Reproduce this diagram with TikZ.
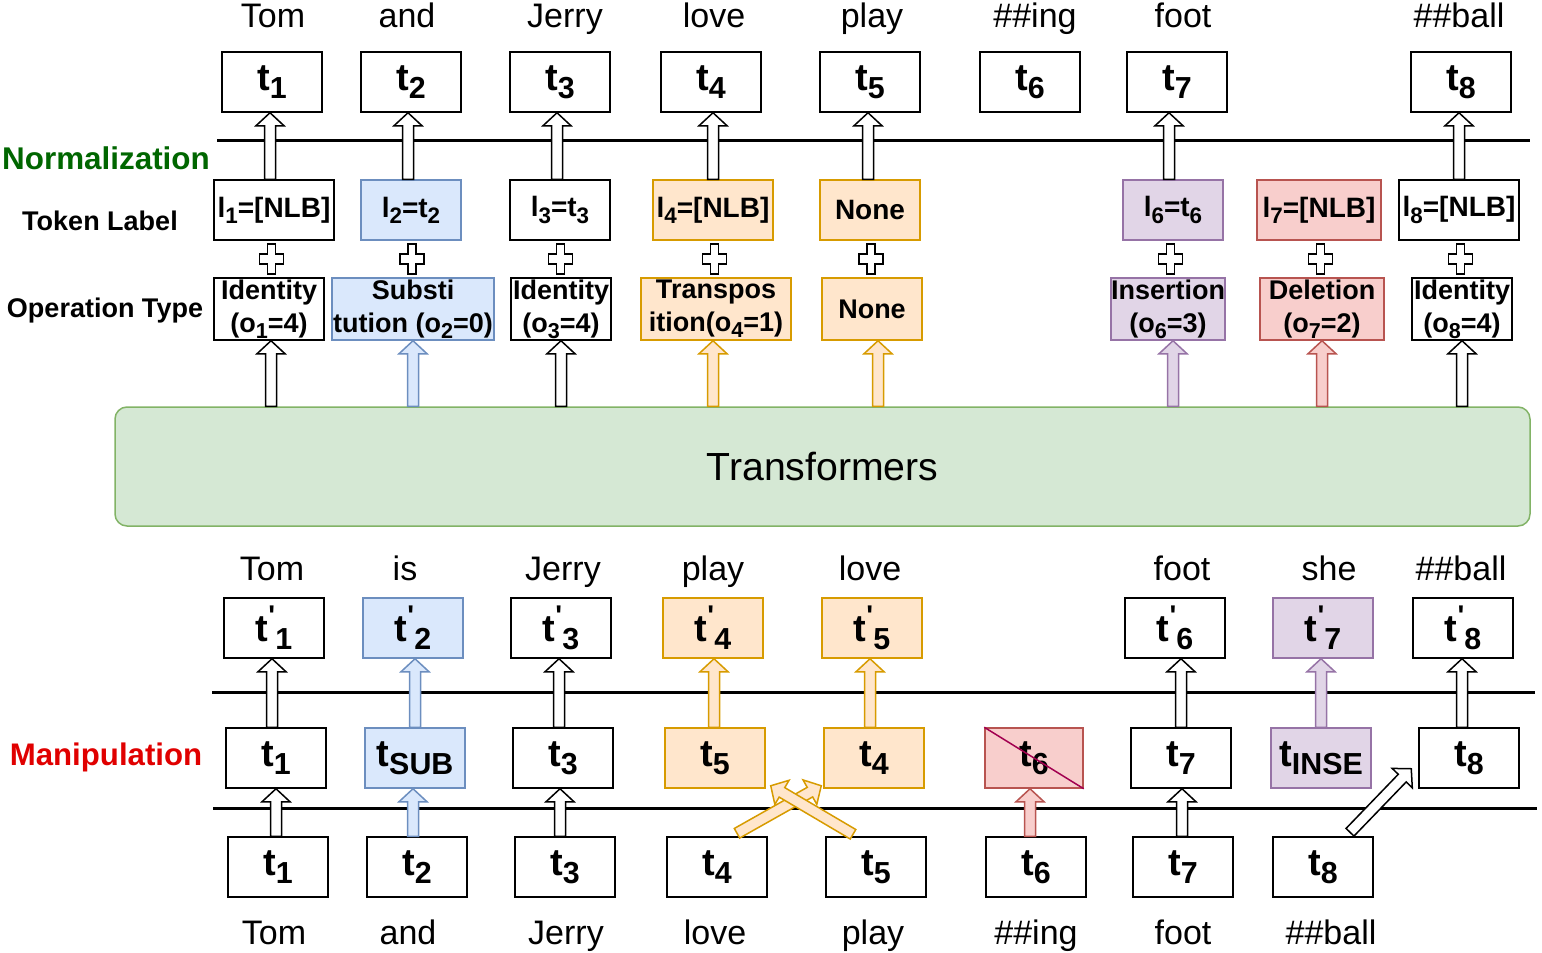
\documentclass[tikz,border=0pt]{standalone}
\usepackage{fontspec}
\setmainfont{Liberation Sans}
\usepackage{graphicx}
\usetikzlibrary{calc}

\definecolor{bluefill}{HTML}{DAE8FC}
\definecolor{blueline}{HTML}{6C8EBF}
\definecolor{orangefill}{HTML}{FFE6CC}
\definecolor{orangeline}{HTML}{D79B00}
\definecolor{purplefill}{HTML}{E1D5E7}
\definecolor{purpleline}{HTML}{9673A6}
\definecolor{redfill}{HTML}{F8CECC}
\definecolor{redline}{HTML}{B85450}
\definecolor{greenfill}{HTML}{D5E8D4}
\definecolor{greenline}{HTML}{82B366}
\definecolor{normgreen}{HTML}{006600}
\definecolor{maniared}{HTML}{E00000}
\definecolor{strikered}{HTML}{A20050}

\tikzstyle{tok} = [draw, line width=0.75pt, minimum width=50pt, minimum height=30pt, inner sep=0pt, font=\fontsize{19}{21}\selectfont\bfseries]
\tikzstyle{lab} = [draw, line width=0.75pt, minimum width=50pt, minimum height=30pt, inner sep=0pt, font=\fontsize{14}{16}\selectfont\bfseries]
\tikzstyle{opt} = [lab, minimum height=31pt, align=center, font=\fontsize{13.5}{16.5}\selectfont\bfseries]
\tikzstyle{word} = [anchor=base, inner sep=0pt, font=\fontsize{17}{19}\selectfont]
\tikzstyle{side} = [inner sep=0pt, font=\fontsize{13.5}{15}\selectfont\bfseries]
\tikzstyle{bluebox} = [draw=blueline, fill=bluefill]
\tikzstyle{orangebox} = [draw=orangeline, fill=orangefill]
\tikzstyle{purplebox} = [draw=purpleline, fill=purplefill]
\tikzstyle{redbox} = [draw=redline, fill=redfill]
\tikzstyle{rule} = [line width=1.5pt]
\tikzstyle{harrow} = [line width=0.75pt, draw=black, fill=white]
\tikzstyle{bluearrow} = [harrow, draw=blueline, fill=bluefill]
\tikzstyle{orangearrow} = [harrow, draw=orangeline, fill=orangefill]
\tikzstyle{purplearrow} = [harrow, draw=purpleline, fill=purplefill]
\tikzstyle{redarrow} = [harrow, draw=redline, fill=redfill]

\tikzset{plusmark/.pic={
  \draw[line width=0.75pt, fill=white] (-4,-15) -- (4,-15) -- (4,-5) -- (12,-5) -- (12,5) -- (4,5) -- (4,15) -- (-4,15) -- (-4,5) -- (-12,5) -- (-12,-5) -- (-4,-5) -- cycle;
}}

\newcommand{\lowsub}[1]{\raisebox{-0.22em}{\scalebox{0.8}{#1}}}
\newcommand{\tk}[1]{t\lowsub{#1}}
\newcommand{\tkp}[1]{t\raisebox{0.42em}{\scalebox{0.75}{\textquotesingle}}\lowsub{#1}}

% hollow block arrow from #2 to #3
\newcommand{\blockarrow}[3][harrow]{
  \coordinate (bas) at (#2);
  \coordinate (bae) at (#3);
  \coordinate (bah) at ($(bae)!6.5pt!(bas)$);
  \draw[#1] ($(bas)!2.75pt!90:(bae)$) -- ($(bah)!2.75pt!90:(bae)$) -- ($(bah)!7pt!90:(bae)$) -- (bae)
    -- ($(bah)!7pt!-90:(bae)$) -- ($(bah)!2.75pt!-90:(bae)$) -- ($(bas)!2.75pt!-90:(bae)$) -- cycle;
}
% vertical one: x taken from #2, from the row of #3 to the row of #4
\newcommand{\blockup}[4][harrow]{
  \coordinate (bax) at (#2);
  \coordinate (bay) at (bax |- #3);
  \coordinate (baz) at (bax |- #4);
  \blockarrow[#1]{bay}{baz}
}

\begin{document}
\begin{tikzpicture}[x=0.5pt,y=-0.5pt]

\useasboundingbox (0,0) rectangle (1542,953);

%% normalization part
\node[word] (w1) at (273,27) {Tom};
\node[word] (w2) at (407,27) {and};
\node[word] (w3) at (565,27) {Jerry};
\node[word] (w4) at (714,27) {love};
\node[word] (w5) at (872,27) {play};
\node[word] (w6) at (1035,27) {\#\#ing};
\node[word] (w7) at (1183,27) {foot};
\node[word] (w8) at (1459,27) {\#\#ball};

\node[tok] (t1) at (272,82) {\tk{1}};
\node[tok] (t2) at (411,82) {\tk{2}};
\node[tok] (t3) at (560,82) {\tk{3}};
\node[tok] (t4) at (711,82) {\tk{4}};
\node[tok] (t5) at (870,82) {\tk{5}};
\node[tok] (t6) at (1030,82) {\tk{6}};
\node[tok] (t7) at (1177,82) {\tk{7}};
\node[tok] (t8) at (1461,82) {\tk{8}};

\draw[rule] (217,140) -- (1530,140);

\node[side, text=normgreen, font=\fontsize{15.7}{17}\selectfont\bfseries] (norm) at (106,158) {Normalization};
\node[side] (toklab) at (100,221) {Token Label};
\node[side] (optype) at (105,311) {Operation Type};

\node[lab, minimum width=60pt] (l1) at (274,210) {l\lowsub{1}=[NLB]};
\node[lab, bluebox] (l2) at (411,210) {l\lowsub{2}=t\lowsub{2}};
\node[lab] (l3) at (560,210) {l\lowsub{3}=t\lowsub{3}};
\node[lab, orangebox, minimum width=60pt] (l4) at (713,210) {l\lowsub{4}=[NLB]};
\node[lab, orangebox] (l5) at (870,210) {None};
\node[lab, purplebox] (l6) at (1173,210) {l\lowsub{6}=t\lowsub{6}};
\node[lab, redbox, minimum width=62pt] (l7) at (1319,210) {l\lowsub{7}=[NLB]};
\node[lab, minimum width=60pt] (l8) at (1459,210) {l\lowsub{8}=[NLB]};

\node[opt, minimum width=55pt] (op1) at (269,309) {Identity\\(o\lowsub{1}=4)};
\node[opt, bluebox, minimum width=81pt] (op2) at (413,309) {Substi\\tution (o\lowsub{2}=0)};
\node[opt] (op3) at (561,309) {Identity\\(o\lowsub{3}=4)};
\node[opt, orangebox, minimum width=75pt] (op4) at (716,309) {Transpos\\ition(o\lowsub{4}=1)};
\node[opt, orangebox] (op5) at (872,309) {None};
\node[opt, purplebox, minimum width=57pt] (op6) at (1168,309) {Insertion\\(o\lowsub{6}=3)};
\node[opt, redbox, minimum width=62pt] (op7) at (1322,309) {Deletion\\(o\lowsub{7}=2)};
\node[opt] (op8) at (1462,309) {Identity\\(o\lowsub{8}=4)};

\pic at ($(l1.south)!0.5!(op1.north)$) {plusmark};
\pic at ($(l2.south)!0.5!(op2.north)$) {plusmark};
\pic at ($(l3.south)!0.5!(op3.north)$) {plusmark};
\pic at ($(l4.south)!0.5!(op4.north)$) {plusmark};
\pic at ($(l5.south)!0.5!(op5.north)$) {plusmark};
\pic at ($(l6.south)!0.5!(op6.north)$) {plusmark};
\pic at ($(l7.south)!0.5!(op7.north)$) {plusmark};
\pic at ($(l8.south)!0.5!(op8.north)$) {plusmark};

\blockup{$(l1.north)+(-4,0)$}{l1.north}{t1.south}
\blockup{$(l2.north)+(-3,0)$}{l2.north}{t2.south}
\blockup{$(l3.north)+(-3,0)$}{l3.north}{t3.south}
\blockup{l4.north}{l4.north}{t4.south}
\blockup{$(l5.north)+(-2,0)$}{l5.north}{t5.south}
\blockup{$(l6.north)+(-4,0)$}{l6.north}{t7.south}
\blockup{l8.north}{l8.north}{t8.south}

\node[draw=greenline, fill=greenfill, line width=0.75pt, rounded corners=6pt, minimum width=707.5pt, minimum height=59.5pt, font=\fontsize{19.6}{22}\selectfont] (tf) at (822.5,466.5) {Transformers};

\blockup{$(op1.south)+(2,0)$}{tf.north}{op1.south}
\blockup[bluearrow]{op2.south}{tf.north}{op2.south}
\blockup{op3.south}{tf.north}{op3.south}
\blockup[orangearrow]{$(op4.south)+(-3,0)$}{tf.north}{op4.south}
\blockup[orangearrow]{$(op5.south)+(6,0)$}{tf.north}{op5.south}
\blockup[purplearrow]{$(op6.south)+(5,0)$}{tf.north}{op6.south}
\blockup[redarrow]{op7.south}{tf.north}{op7.south}
\blockup{op8.south}{tf.north}{op8.south}

%% manipulation part
\node[word] (v1) at (272,580) {Tom};
\node[word] (v2) at (405,580) {is};
\node[word] (v3) at (563,580) {Jerry};
\node[word] (v4) at (713,580) {play};
\node[word] (v5) at (870,580) {love};
\node[word] (v6) at (1182,580) {foot};
\node[word] (v7) at (1329,580) {she};
\node[word] (v8) at (1461,580) {\#\#ball};

\node[tok] (tp1) at (274,628) {\tkp{1}};
\node[tok, bluebox] (tp2) at (413,628) {\tkp{2}};
\node[tok] (tp3) at (561,628) {\tkp{3}};
\node[tok, orangebox] (tp4) at (713,628) {\tkp{4}};
\node[tok, orangebox] (tp5) at (872,628) {\tkp{5}};
\node[tok] (tp6) at (1175,628) {\tkp{6}};
\node[tok, purplebox] (tp7) at (1323,628) {\tkp{7}};
\node[tok] (tp8) at (1463,628) {\tkp{8}};

\draw[rule] (212,692) -- (1535,692);
\draw[rule] (213,808) -- (1537,808);

\node[side, text=maniared, font=\fontsize{15.6}{17}\selectfont\bfseries] (mani) at (106,757) {Manipulation};

\node[tok] (m1) at (276,758) {\tk{1}};
\node[tok, bluebox] (m2) at (415,758) {\tk{SUB}};
\node[tok] (m3) at (563,758) {\tk{3}};
\node[tok, orangebox] (m4) at (715,758) {\tk{5}};
\node[tok, orangebox] (m5) at (874,758) {\tk{4}};
\node[tok, redbox, minimum width=49pt] (m6) at (1034,758) {\tk{6}};
\node[tok] (m7) at (1181,758) {\tk{7}};
\node[tok, purplebox] (m8) at (1321,758) {\tk{INSE}};
\node[tok] (m9) at (1469,758) {\tk{8}};
\draw[strikered, line width=0.75pt] (m6.north west) -- (m6.south east);

\node[tok] (b1) at (278,867) {\tk{1}};
\node[tok] (b2) at (417,867) {\tk{2}};
\node[tok] (b3) at (565,867) {\tk{3}};
\node[tok] (b4) at (717,867) {\tk{4}};
\node[tok] (b5) at (876,867) {\tk{5}};
\node[tok] (b6) at (1036,867) {\tk{6}};
\node[tok] (b7) at (1183,867) {\tk{7}};
\node[tok] (b8) at (1323,867) {\tk{8}};

\node[word] (u1) at (274,944) {Tom};
\node[word] (u2) at (408,944) {and};
\node[word] (u3) at (566,944) {Jerry};
\node[word] (u4) at (715,944) {love};
\node[word] (u5) at (873,944) {play};
\node[word] (u6) at (1036,944) {\#\#ing};
\node[word] (u7) at (1183,944) {foot};
\node[word] (u8) at (1331,944) {\#\#ball};

\blockup{$(m1.north)+(-4,0)$}{m1.north}{tp1.south}
\blockup[bluearrow]{m2.north}{m2.north}{tp2.south}
\blockup{$(m3.north)+(-4,0)$}{m3.north}{tp3.south}
\blockup[orangearrow]{$(m4.north)+(-1,0)$}{m4.north}{tp4.south}
\blockup[orangearrow]{$(m5.north)+(-4,0)$}{m5.north}{tp5.south}
\blockup{m7.north}{m7.north}{tp6.south}
\blockup[purplearrow]{m8.north}{m8.north}{tp7.south}
\blockup{$(m9.north)+(-7,0)$}{m9.north}{tp8.south}

\blockup{$(b1.north)+(-2,0)$}{b1.north}{m1.south}
\blockup[bluearrow]{$(b2.north)+(-4,0)$}{b2.north}{m2.south}
\blockup{$(b3.north)+(-5,0)$}{b3.north}{m3.south}
\blockarrow[orangearrow]{$(b4.north)+(20,-3)$}{$(m5.south west)+(-2,-3)$}
\blockarrow[orangearrow]{$(b5.north)+(-23,-2)$}{$(m4.south east)+(5,-3)$}
\blockup[redarrow]{$(b6.north)+(-6,0)$}{b6.north}{m6.south}
\blockup{$(b7.north)+(-1,0)$}{b7.north}{m7.south}
\blockarrow{$(b8.north)+(27,-4)$}{$(m9.south west)+(-7,-20)$}

\end{tikzpicture}
\end{document}
